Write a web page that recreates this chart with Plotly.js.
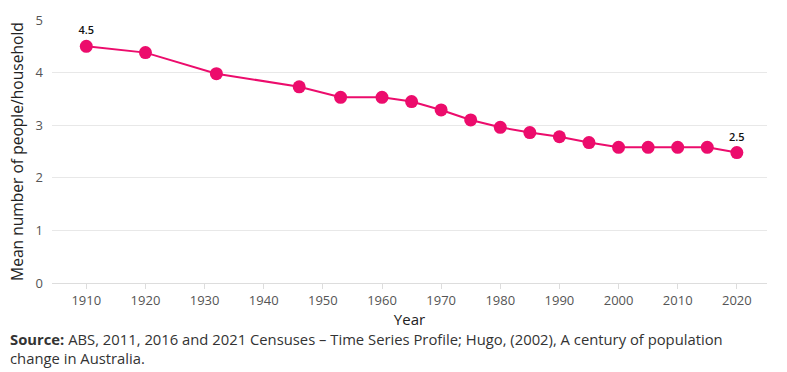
<!DOCTYPE html>
<html>
<head>
<meta charset="utf-8">
<script src="https://cdn.plot.ly/plotly-3.0.1.min.js"></script>
<style>html,body{margin:0;padding:0;background:#fff;}#chart{width:787px;height:372px;}</style>
</head>
<body>
<div id="chart"></div>
<script>
const years = [1910, 1920, 1932, 1946, 1953, 1960, 1965, 1970, 1975, 1980, 1985, 1990, 1995, 2000, 2005, 2010, 2015, 2020];
const meanPeople = [4.5, 4.38, 3.98, 3.73, 3.53, 3.53, 3.45, 3.29, 3.1, 2.96, 2.86, 2.78, 2.67, 2.58, 2.58, 2.58, 2.58, 2.48];
const pointLabels = ['4.5', '', '', '', '', '', '', '', '', '', '', '', '', '', '', '', '', '2.5'];
const xTicks = [1910, 1920, 1930, 1940, 1950, 1960, 1970, 1980, 1990, 2000, 2010, 2020];
const yTicks = [0, 1, 2, 3, 4, 5];

const pink = '#EC0C6C';
const trace = {
  x: years, y: meanPeople, text: pointLabels,
  type: 'scatter', mode: 'lines+markers+text',
  textposition: 'top center',
  textfont: {family: '"Open Sans", sans-serif', size: 11, color: '#111', weight: 600},
  line: {color: pink, width: 2},
  marker: {color: pink, size: 13},
  hoverinfo: 'none', cliponaxis: false
};
const layout = {
  width: 787, height: 372,
  margin: {l: 52, r: 20, t: 20, b: 89},
  paper_bgcolor: '#fff', plot_bgcolor: '#fff',
  showlegend: false,
  font: {family: '"Open Sans", sans-serif', color: '#555'},
  xaxis: {
    range: [1904.2, 2025.1], tickvals: xTicks, ticktext: xTicks.map(String),
    showgrid: false, zeroline: false, showline: false,
    ticks: 'outside', ticklen: 5, tickcolor: '#ddd', tickwidth: 1,
    tickfont: {size: 13, color: '#555'},
    title: {text: 'Year', font: {size: 15, color: '#222'}, standoff: 1}
  },
  yaxis: {
    range: [0, 5], tickvals: yTicks, ticktext: yTicks.map(String),
    showgrid: true, gridcolor: '#e8e8e8', gridwidth: 1,
    zeroline: true, zerolinecolor: '#ddd', zerolinewidth: 1,
    showline: false, ticks: '', ticklabelstandoff: 8,
    tickfont: {size: 13, color: '#555'},
    title: {text: 'Mean number of people/household', font: {size: 15.6, color: '#222'}, standoff: 8}
  },
  annotations: [{
    xref: 'paper', yref: 'paper', x: -44/715, y: -44/263,
    xanchor: 'left', yanchor: 'top', align: 'left', showarrow: false,
    text: '<b>Source:</b> ABS, 2011, 2016 and 2021 Censuses – Time Series Profile; Hugo, (2002), A century of population<br>change in Australia.',
    font: {family: '"Open Sans", sans-serif', size: 14.8, color: '#333'}
  }]
};
Plotly.newPlot('chart', [trace], layout, {displayModeBar: false, staticPlot: true});
</script>
</body>
</html>
